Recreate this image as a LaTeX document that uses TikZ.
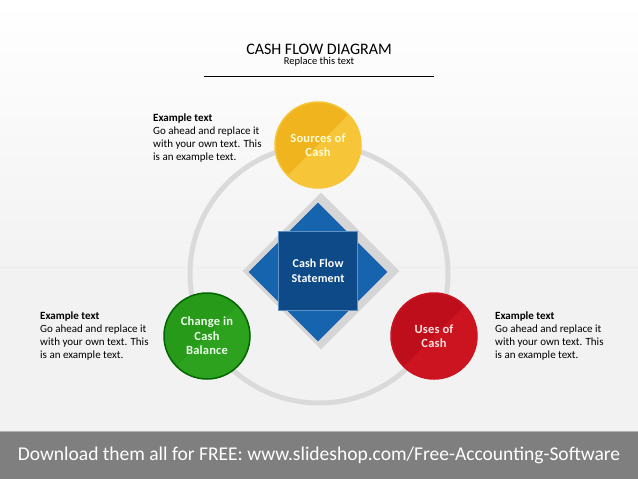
\documentclass[tikz,border=0pt]{standalone}
\usepackage{fontspec}
\setmainfont{Carlito}
\usetikzlibrary{shapes.geometric}
\definecolor{ringgray}{HTML}{DADADA}
\definecolor{shadowgray}{HTML}{D6D6D6}
\definecolor{diamondblue}{HTML}{1664AE}
\definecolor{squareblue}{HTML}{0E4A88}
\definecolor{yellowdark}{HTML}{F0B41E}
\definecolor{yellowlight}{HTML}{F6C638}
\definecolor{greendark}{HTML}{289A1A}
\definecolor{greenlight}{HTML}{2DA21E}
\definecolor{reddark}{HTML}{BE0E1B}
\definecolor{redlight}{HTML}{CC1421}
\definecolor{bargray}{HTML}{7F7F7F}
\tikzset{
	bubble/.style={circle, minimum size=86pt, inner sep=0pt, line width=1.5pt, align=center,
		font=\fontsize{12.5}{14.5}\selectfont\bfseries\addfontfeature{LetterSpace=1.5}},
	gloss/.style={path picture={\fill[#1] (path picture bounding box.north east) -- (path picture bounding box.south west) -- (path picture bounding box.south east) -- cycle;}},
	note/.style={anchor=north west, inner sep=0pt, align=left,
		font=\fontsize{11}{12.8}\selectfont},
}
\begin{document}
\begin{tikzpicture}[x=1pt, y=-1pt]
	\useasboundingbox (0, 0) rectangle (638, 479);
	\fill[top color=white, bottom color=black!5] (0, 0) rectangle (638, 267);
	\fill[black!5] (0, 267) rectangle (638, 431);
	\draw[black!7, line width=1pt] (0, 267) -- (638, 267);

	\node[font=\fontsize{16}{18}\selectfont] (title) at (319, 49) {CASH FLOW DIAGRAM};
	\node[font=\fontsize{10.5}{12}\selectfont] (subtitle) at (319, 62) {Replace this text};
	\draw[thin] (204, 76) -- (434, 76);

	\draw[ringgray, line width=5pt] (319, 274) circle [radius=129pt];

	\node[shape=rectangle, fill=shadowgray, minimum size=111pt, rotate=45] (shadow) at (321, 271) {};
	\node[shape=rectangle, fill=diamondblue, minimum size=98pt, rotate=45] (diamond) at (318, 272) {};
	\node[shape=rectangle, fill=squareblue, draw=diamondblue!70!white, thin, minimum size=79pt, text=white, align=center,
		font=\fontsize{12}{15}\selectfont\bfseries\addfontfeature{LetterSpace=1}] (cfs) at (318, 271) {Cash Flow\\Statement};

	\node[bubble, fill=yellowdark, draw=yellowlight, gloss=yellowlight, text=yellow!15!white] (src) at (318, 145) {Sources of\\Cash};
	\node[bubble, fill=greendark, draw=green!40!black, gloss=greenlight, text=green!8!white] (chg) at (207, 336) {Change in\\Cash\\Balance};
	\node[bubble, fill=reddark, draw=redlight, gloss=redlight, text=red!12!white] (use) at (434, 336) {Uses of\\Cash};

	\node[note] (srcnote) at (153, 114) {\textbf{Example text}\\Go ahead and replace it\\with your own text. This\\is an example text.};
	\node[note] (chgnote) at (40, 312) {\textbf{Example text}\\Go ahead and replace it\\with your own text. This\\is an example text.};
	\node[note] (usenote) at (495, 312) {\textbf{Example text}\\Go ahead and replace it\\with your own text. This\\is an example text.};

	\fill[bargray] (0, 431) rectangle (638, 479);
	\draw[black!30, line width=1pt] (0, 431) -- (638, 431);
	\node[text=white, font=\fontsize{19.5}{22}\selectfont] (footer) at (319, 455) {Download them all for FREE: www.slideshop.com/Free-Accounting-Software};
\end{tikzpicture}
\end{document}
